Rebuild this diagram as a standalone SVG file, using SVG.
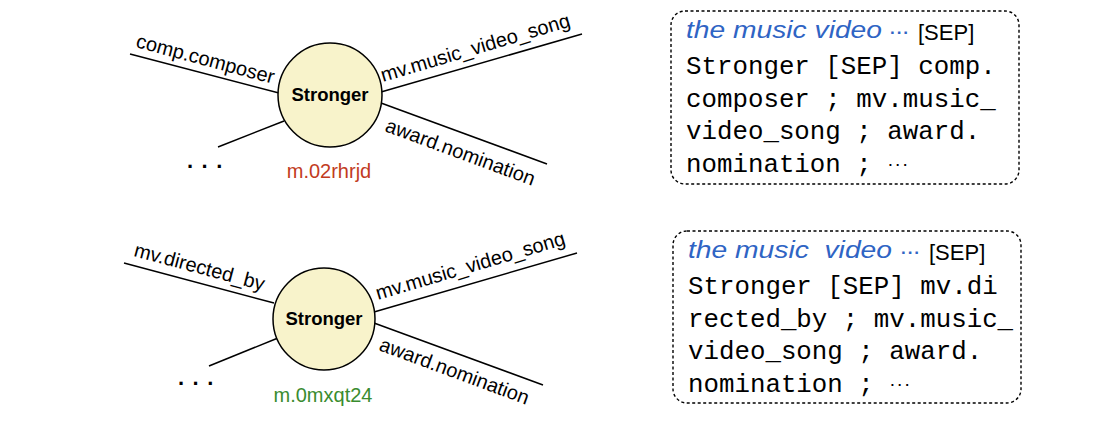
<svg xmlns="http://www.w3.org/2000/svg" width="1106" height="436" viewBox="0 0 1106 436">
<style>
.edge{stroke:#000;stroke-width:1.5;fill:none}
.node{fill:#f8f3cb;stroke:#000;stroke-width:1.5}
.lbl{font-family:"Liberation Sans",Arial,sans-serif;font-size:20px;fill:#000}
.ell{font-family:"Liberation Sans",Arial,sans-serif;font-size:22px;font-weight:bold;fill:#000}
.name{font-family:"Liberation Sans",Arial,sans-serif;font-size:18.5px;font-weight:bold;fill:#000}
.mid{font-family:"Liberation Sans",Arial,sans-serif;font-size:20px}
.box{fill:#fff;stroke:#000;stroke-width:1.4;stroke-dasharray:3 2.5}
.q{font-family:"Liberation Sans",Arial,sans-serif;font-size:24px;font-style:italic;fill:#2f64c4}
.dots{font-family:"Liberation Sans",Arial,sans-serif;font-size:17px;font-weight:bold;fill:#2f64c4}
.sep{font-family:"Liberation Sans",Arial,sans-serif;font-size:22px;fill:#000}
.mono{font-family:"Liberation Mono",monospace;font-size:25.8px;fill:#000}
.md{font-family:"Liberation Sans",Arial,sans-serif;font-size:19px;font-weight:normal}
</style>
<rect width="1106" height="436" fill="#fff"/>
<g id="connectors">
<line class="edge" x1="130" y1="54" x2="279" y2="93"/>
<line class="edge" x1="381" y1="92" x2="582" y2="34"/>
<line class="edge" x1="381" y1="103" x2="547" y2="164"/>
<line class="edge" x1="284" y1="121" x2="218" y2="147"/>
<line class="edge" x1="124" y1="263" x2="274" y2="303"/>
<line class="edge" x1="374" y1="312" x2="577" y2="253"/>
<line class="edge" x1="374" y1="323" x2="543" y2="385"/>
<line class="edge" x1="278" y1="338" x2="209" y2="366"/>
</g>
<g id="edge-labels">
<text class="lbl" transform="translate(135,47) rotate(15)">comp.composer</text>
<text class="lbl" transform="translate(383,82) rotate(-16.5)">mv.music_video_song</text>
<text class="lbl" transform="translate(384,131) rotate(20.3)">award.nomination</text>
<text class="ell" x="187" y="168" letter-spacing="8.5">...</text>
<text class="lbl" transform="translate(133,256) rotate(15)">mv.directed_by</text>
<text class="lbl" transform="translate(378,300) rotate(-16.5)">mv.music_video_song</text>
<text class="lbl" transform="translate(378,350) rotate(20.3)">award.nomination</text>
<text class="ell" x="178" y="385" letter-spacing="8.5">...</text>
</g>
<g id="node-top">
<circle class="node" cx="330" cy="95" r="52"/>
<text class="name" x="330" y="101" text-anchor="middle">Stronger</text>
<text class="mid" x="329" y="178" text-anchor="middle" fill="#c23b1e">m.02rhrjd</text>
</g>
<g id="node-bottom">
<circle class="node" cx="324" cy="319" r="51"/>
<text class="name" x="324" y="325" text-anchor="middle">Stronger</text>
<text class="mid" x="323" y="402" text-anchor="middle" fill="#3a8c2f">m.0mxqt24</text>
</g>
<g id="box-top">
<rect class="box" x="671" y="11" width="348" height="173" rx="14"/>
<text class="q" x="686" y="38" textLength="196" lengthAdjust="spacingAndGlyphs">the music video</text>
<text class="dots" x="890" y="38" letter-spacing="1">···</text>
<text class="sep" x="918" y="40">[SEP]</text>
<text class="mono" x="686" y="74">Stronger [SEP] comp.</text>
<text class="mono" x="686" y="107">composer ; mv.music_</text>
<text class="mono" x="686" y="139">video_song ; award.</text>
<text class="mono" x="686" y="172">nomination ; <tspan class="md" dy="-2" letter-spacing="1">···</tspan></text>
</g>
<g id="box-bottom">
<rect class="box" x="673" y="231" width="348" height="172" rx="14"/>
<text class="q" x="688" y="258" textLength="204" lengthAdjust="spacingAndGlyphs" xml:space="preserve">the music  video</text>
<text class="dots" x="901" y="258" letter-spacing="1">···</text>
<text class="sep" x="929" y="260">[SEP]</text>
<text class="mono" x="688" y="294">Stronger [SEP] mv.di</text>
<text class="mono" x="688" y="327">rected_by ; mv.music_</text>
<text class="mono" x="688" y="359">video_song ; award.</text>
<text class="mono" x="688" y="392">nomination ; <tspan class="md" dy="-2" letter-spacing="1">···</tspan></text>
</g>
</svg>
